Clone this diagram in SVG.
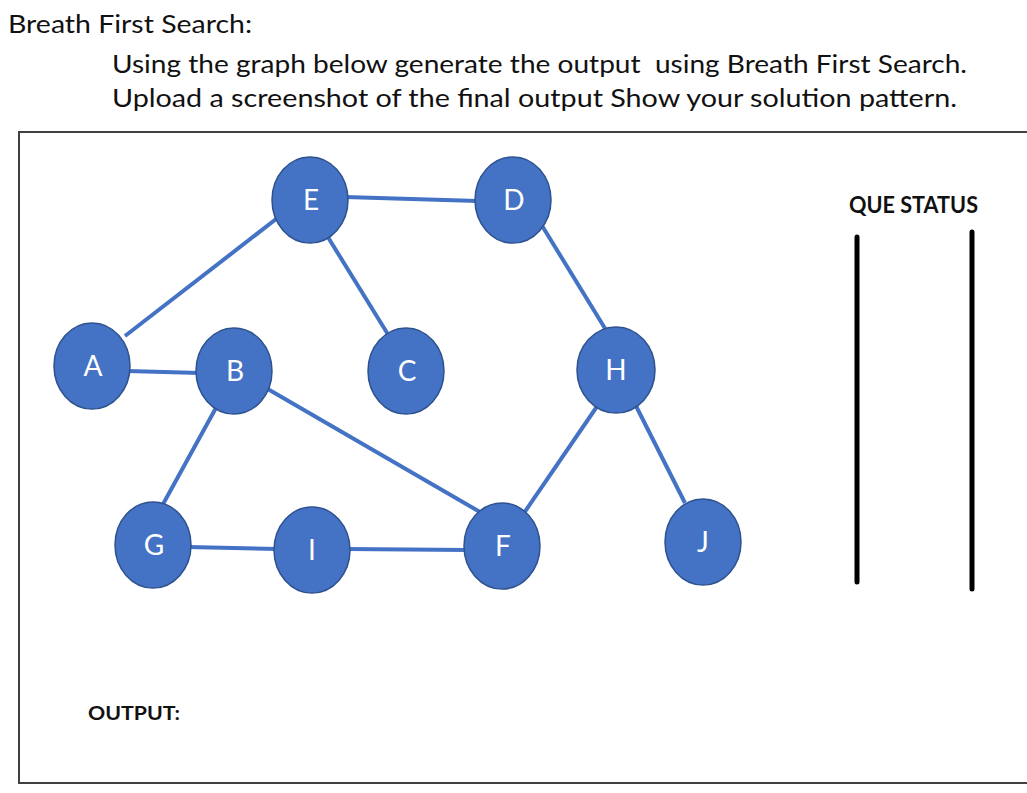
<svg xmlns="http://www.w3.org/2000/svg" width="1027" height="793" viewBox="0 0 1027 793">
<style>
.hdr{font-family:Lato,"Open Sans","Liberation Sans",sans-serif;font-size:25px;fill:#111;}
.bold{font-family:Lato,"Open Sans","Liberation Sans",sans-serif;font-weight:bold;fill:#111;}
.node ellipse{fill:#4472C4;stroke:#2F528F;stroke-width:1.5;}
.node text{font-family:Lato,"Open Sans","Liberation Sans",sans-serif;font-size:28px;fill:#fff;text-anchor:middle;}
.edge{stroke:#4472C4;stroke-width:4;fill:none;}
.qline{stroke:#000;stroke-width:5;stroke-linecap:round;}
</style>
<rect x="0" y="0" width="1027" height="793" fill="#fff"/>
<text class="hdr" x="8" y="33" textLength="244" lengthAdjust="spacingAndGlyphs">Breath First Search:</text>
<text class="hdr" x="112" y="73" textLength="855" lengthAdjust="spacingAndGlyphs" xml:space="preserve">Using the graph below generate the output  using Breath First Search.</text>
<text class="hdr" x="112" y="107" textLength="845" lengthAdjust="spacingAndGlyphs">Upload a screenshot of the final output Show your solution pattern.</text>
<path d="M1030 132 H19 V783 H1030" fill="none" stroke="#404040" stroke-width="2"/>
<g id="connectors">
<line class="edge" x1="125" y1="336" x2="280" y2="216"/>
<line class="edge" x1="345" y1="197" x2="478" y2="201"/>
<line class="edge" x1="326" y1="234" x2="389" y2="336"/>
<line class="edge" x1="127" y1="371" x2="200" y2="373"/>
<line class="edge" x1="217" y1="406" x2="162" y2="506"/>
<line class="edge" x1="266" y1="388" x2="480" y2="512"/>
<line class="edge" x1="541" y1="224" x2="606" y2="330"/>
<line class="edge" x1="598" y1="405" x2="524" y2="513"/>
<line class="edge" x1="635" y1="404" x2="685" y2="503"/>
<line class="edge" x1="188" y1="547" x2="278" y2="549"/>
<line class="edge" x1="346" y1="549" x2="468" y2="550"/>
</g>
<g id="node-E" class="node"><ellipse cx="310" cy="200" rx="38" ry="43"/><text x="311" y="210">E</text></g>
<g id="node-D" class="node"><ellipse cx="513" cy="200" rx="38" ry="43"/><text x="514" y="210">D</text></g>
<g id="node-A" class="node"><ellipse cx="92" cy="366" rx="38" ry="43"/><text x="93" y="376">A</text></g>
<g id="node-B" class="node"><ellipse cx="234" cy="371" rx="38" ry="43"/><text x="235" y="381">B</text></g>
<g id="node-C" class="node"><ellipse cx="406" cy="371" rx="38" ry="43"/><text x="407" y="381">C</text></g>
<g id="node-H" class="node"><ellipse cx="616" cy="370" rx="39" ry="43"/><text x="616" y="380">H</text></g>
<g id="node-G" class="node"><ellipse cx="153" cy="545" rx="38" ry="43"/><text x="154" y="555">G</text></g>
<g id="node-I" class="node"><ellipse cx="312" cy="550" rx="38" ry="43"/><text x="312" y="560">I</text></g>
<g id="node-F" class="node"><ellipse cx="502" cy="546" rx="38" ry="43"/><text x="503" y="556">F</text></g>
<g id="node-J" class="node"><ellipse cx="703" cy="542" rx="38" ry="43"/><text x="703" y="552">J</text></g>
<g id="queue">
<text class="bold" x="849" y="213" font-size="22" textLength="129" lengthAdjust="spacingAndGlyphs">QUE STATUS</text>
<line class="qline" x1="857" y1="237" x2="857" y2="582"/>
<line class="qline" x1="972" y1="232" x2="972" y2="589"/>
</g>
<text class="bold" x="88" y="720" font-size="18" textLength="92" lengthAdjust="spacingAndGlyphs">OUTPUT:</text>
</svg>
